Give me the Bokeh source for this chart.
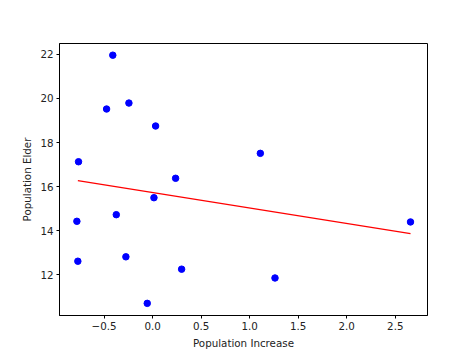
from bokeh.plotting import figure
from bokeh.models import FixedTicker, Range1d
from bokeh.embed import file_html
from bokeh.resources import INLINE

# data
pop_increase = [-0.41, -0.474, -0.244, 0.031, -0.763, 0.237, 0.014, -0.374,
                -0.780, -0.770, -0.275, 0.299, -0.055, 1.110, 1.261, 2.657]
pop_elder = [21.96, 19.52, 19.79, 18.75, 17.13, 16.38, 15.50, 14.73,
             14.43, 12.62, 12.82, 12.26, 10.71, 17.51, 11.86, 14.40]
fit_x = [-0.77, 2.657]
fit_y = [16.27, 13.87]
x_ticks = [-0.5, 0.0, 0.5, 1.0, 1.5, 2.0, 2.5]
y_ticks = [12, 14, 16, 18, 20, 22]

p = figure(frame_width=368, frame_height=272, output_backend="svg", toolbar_location=None,
           x_range=Range1d(-0.959, 2.832), y_range=Range1d(10.16, 22.49),
           min_border_left=59, min_border_right=30, min_border_top=43, min_border_bottom=36)

p.scatter(pop_increase, pop_elder, size=6.5, color="blue")
p.line(fit_x, fit_y, color="red", line_width=1.2)

p.xgrid.visible = False
p.ygrid.visible = False
p.outline_line_color = "black"
p.outline_line_width = 1

p.xaxis.ticker = FixedTicker(ticks=x_ticks)
p.yaxis.ticker = FixedTicker(ticks=y_ticks)
p.xaxis.major_label_overrides = {t: f"{t:.1f}".replace("-", "\u2212") for t in x_ticks}
p.yaxis.major_label_overrides = {t: str(t) for t in y_ticks}
p.xaxis.axis_label = "Population Increase"
p.yaxis.axis_label = "Population Elder"
for ax in (p.xaxis, p.yaxis):
    ax.minor_tick_line_color = None
    ax.major_tick_in = 0
    ax.major_tick_out = 3
    ax.axis_line_color = "black"
    ax.major_tick_line_color = "black"
    ax.major_label_text_font = "DejaVu Sans"
    ax.major_label_text_font_size = "10.3px"
    ax.major_label_text_color = "#222222"
    ax.axis_label_text_font = "DejaVu Sans"
    ax.axis_label_text_font_size = "10.3px"
    ax.axis_label_text_font_style = "normal"
    ax.axis_label_text_color = "#222222"
    ax.major_label_standoff = 3
    ax.axis_label_standoff = 4

open("out.html", "w").write(file_html(p, INLINE))
